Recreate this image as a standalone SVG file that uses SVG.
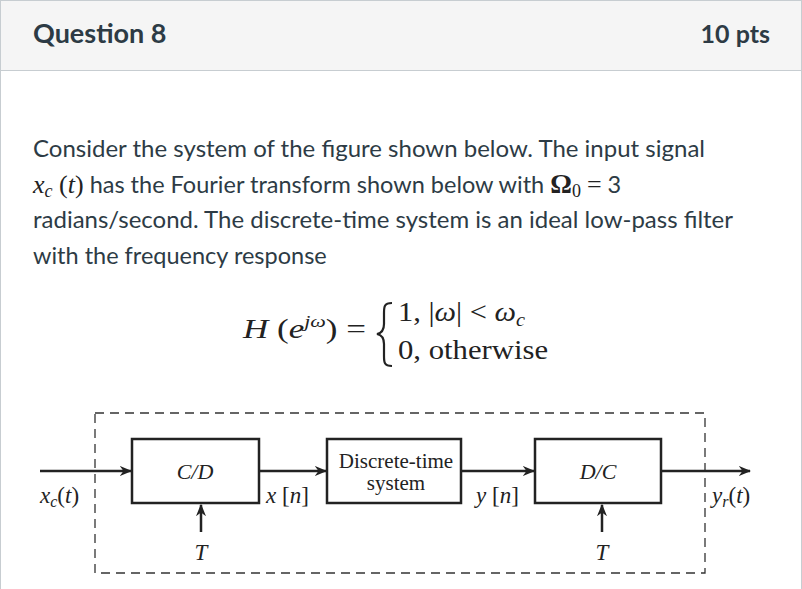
<svg xmlns="http://www.w3.org/2000/svg" width="802" height="589" viewBox="0 0 802 589">
<style>
.t{font-family:Lato,"Open Sans",sans-serif;fill:#2d3b45}
.m{font-family:"Liberation Serif","DejaVu Serif",serif;fill:#222}
.box{fill:none;stroke:#222;stroke-width:2.5}
.ln{stroke:#222;stroke-width:2.5;fill:none}
</style>
<defs><marker id="a" viewBox="0 0 10 10" refX="9" refY="5" markerWidth="5" markerHeight="5" orient="auto" markerUnits="strokeWidth"><path d="M0,1 L10,5 L0,9 L3,5 z" fill="#222"/></marker></defs>
<rect x="0" y="0" width="802" height="589" fill="#fff"/>
<rect x="0.5" y="0.5" width="801" height="70" fill="#f5f5f5" stroke="#c7cdd1"/>
<text class="t" x="33" y="43" font-size="27" font-weight="bold">Question 8</text>
<text class="t" x="770" y="43" font-size="25" font-weight="bold" text-anchor="end">10 pts</text>
<line x1="0.5" y1="70" x2="0.5" y2="589" stroke="#c7cdd1"/>
<line x1="801.5" y1="70" x2="801.5" y2="589" stroke="#c7cdd1"/>
<g class="t" font-size="23.5">
<text x="33" y="157" textLength="672" lengthAdjust="spacingAndGlyphs">Consider the system of the figure shown below. The input signal</text>
<text x="33" y="193"><tspan class="m" font-style="italic" font-size="26">x</tspan><tspan class="m" font-style="italic" font-size="18" dy="4">c</tspan><tspan class="m" font-size="26" dy="-4"> (</tspan><tspan class="m" font-style="italic" font-size="26">t</tspan><tspan class="m" font-size="26">)</tspan> has the Fourier transform shown below with <tspan class="m" font-size="27" font-weight="bold">Ω</tspan><tspan class="m" font-size="18" dy="4">0</tspan><tspan dy="-4">  </tspan><tspan class="m" font-size="26">=</tspan> 3</text>
<text x="33" y="228" textLength="700" lengthAdjust="spacingAndGlyphs">radians/second. The discrete-time system is an ideal low-pass filter</text>
<text x="33" y="264">with the frequency response</text>
</g>
<g id="eq" class="m" font-size="27">
<text x="243" y="338" textLength="123" lengthAdjust="spacingAndGlyphs"><tspan font-style="italic">H</tspan> (<tspan font-style="italic">e</tspan><tspan font-style="italic" font-size="17" dy="-11">jω</tspan><tspan dy="11">) =</tspan></text>
<path d="M392,303 C384,303 384,307 384,313 L384,324 C384,330 382,333 377,334 C382,335 384,338 384,344 L384,356 C384,362 384,366 392,366" fill="none" stroke="#222" stroke-width="2.2"/>
<text x="398" y="321" textLength="127" lengthAdjust="spacingAndGlyphs">1, |<tspan font-style="italic">ω</tspan>| &lt; <tspan font-style="italic">ω</tspan><tspan font-style="italic" font-size="18" dy="5">c</tspan></text>
<text x="398" y="359" textLength="150" lengthAdjust="spacingAndGlyphs">0,  otherwise</text>
</g>
<rect x="95" y="413" width="610" height="160" fill="none" stroke="#333" stroke-width="1.3" stroke-dasharray="9,6"/>
<g id="cd"><rect class="box" x="132" y="439" width="127" height="64"/><text class="m" x="195" y="479" font-size="22" font-style="italic" text-anchor="middle">C/D</text></g>
<g id="dts"><rect class="box" x="327" y="439" width="134" height="64"/><text class="m" x="396" y="468" font-size="21" text-anchor="middle">Discrete-time</text><text class="m" x="396" y="490" font-size="21" text-anchor="middle">system</text></g>
<g id="dc"><rect class="box" x="535" y="439" width="126" height="64"/><text class="m" x="598" y="479" font-size="22" font-style="italic" text-anchor="middle">D/C</text></g>
<g id="connectors">
<line class="ln" x1="40" y1="471" x2="131" y2="471" marker-end="url(#a)"/>
<line class="ln" x1="259" y1="471" x2="326" y2="471" marker-end="url(#a)"/>
<line class="ln" x1="461" y1="471" x2="534" y2="471" marker-end="url(#a)"/>
<line class="ln" x1="661" y1="471" x2="750" y2="471" marker-end="url(#a)"/>
<line class="ln" x1="201" y1="532" x2="201" y2="505" marker-end="url(#a)"/>
<line class="ln" x1="602" y1="532" x2="602" y2="505" marker-end="url(#a)"/>
</g>
<g class="m" font-size="23">
<text x="40" y="503"><tspan font-style="italic">x</tspan><tspan font-style="italic" font-size="16" dy="4">c</tspan><tspan dy="-4">(</tspan><tspan font-style="italic">t</tspan>)</text>
<text x="266" y="503"><tspan font-style="italic">x</tspan> [<tspan font-style="italic">n</tspan>]</text>
<text x="476" y="503"><tspan font-style="italic">y</tspan> [<tspan font-style="italic">n</tspan>]</text>
<text x="712" y="503"><tspan font-style="italic">y</tspan><tspan font-style="italic" font-size="16" dy="4">r</tspan><tspan dy="-4">(</tspan><tspan font-style="italic">t</tspan>)</text>
<text x="201" y="560" font-style="italic" text-anchor="middle">T</text>
<text x="602" y="560" font-style="italic" text-anchor="middle">T</text>
</g>
</svg>
